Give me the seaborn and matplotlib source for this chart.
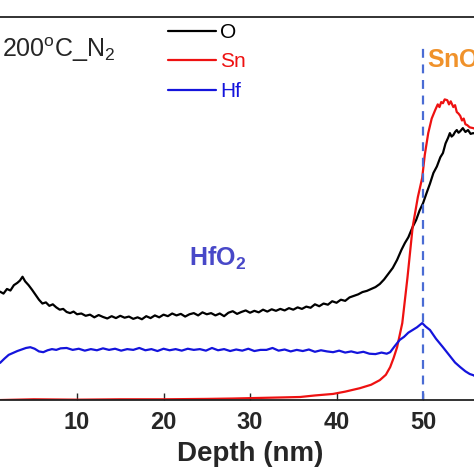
import numpy as np
import pandas as pd
import seaborn as sns
import matplotlib
matplotlib.use("Agg")
import matplotlib.pyplot as plt

# depth profile values (arbitrary intensity units)
o_depth = [1.1, 1.5, 1.9, 2.3, 2.7, 3.1, 3.4, 3.7, 4.0, 4.4, 4.8, 5.2, 5.6, 6.0, 6.4,
           6.8, 7.2, 7.6, 8.0, 8.4, 8.8, 9.2, 9.6, 10.0, 10.5, 11.0, 11.5, 12.0, 12.5,
           13.0, 13.5, 14.0, 14.5, 15.0, 15.5, 16.0, 16.5, 17.0, 17.5, 18.0, 18.5,
           19.0, 19.5, 20.0, 20.5, 21.0, 21.5, 22.0, 22.5, 23.0, 23.5, 24.0, 24.5,
           25.0, 25.5, 26.0, 26.5, 27.0, 27.5, 28.0, 28.5, 29.0, 29.5, 30.0, 30.5,
           31.0, 31.5, 32.0, 32.5, 33.0, 33.5, 34.0, 34.5, 35.0, 35.5, 36.0, 36.5,
           37.0, 37.5, 38.0, 38.5, 39.0, 39.5, 40.0, 40.5, 41.0, 41.5, 42.0, 42.5,
           43.0, 43.5, 44.0, 44.5, 45.0, 45.5, 46.0, 46.5, 47.0, 47.5, 47.9, 48.3,
           48.8, 49.2, 49.6, 50.0, 50.4, 50.8, 51.2, 51.6, 52.0, 52.3, 52.6, 52.9,
           53.1, 53.3, 53.5, 53.7, 53.9, 54.1, 54.3, 54.6, 54.9, 55.2, 55.5, 55.8, 57.0]
o_value = [0.283, 0.278, 0.290, 0.286, 0.300, 0.306, 0.312, 0.322, 0.310, 0.300, 0.288,
           0.275, 0.262, 0.252, 0.255, 0.246, 0.250, 0.242, 0.236, 0.238, 0.230, 0.227,
           0.231, 0.224, 0.226, 0.220, 0.223, 0.216, 0.222, 0.217, 0.213, 0.219, 0.214,
           0.220, 0.215, 0.218, 0.212, 0.216, 0.211, 0.219, 0.214, 0.221, 0.216, 0.223,
           0.219, 0.226, 0.221, 0.225, 0.218, 0.224, 0.227, 0.221, 0.229, 0.224, 0.227,
           0.221, 0.226, 0.219, 0.228, 0.232, 0.225, 0.230, 0.234, 0.228, 0.233, 0.229,
           0.236, 0.231, 0.237, 0.233, 0.238, 0.234, 0.240, 0.236, 0.242, 0.238, 0.244,
           0.241, 0.250, 0.245, 0.252, 0.249, 0.258, 0.254, 0.262, 0.259, 0.268, 0.272,
           0.276, 0.282, 0.285, 0.290, 0.295, 0.303, 0.315, 0.330, 0.345, 0.366, 0.392,
           0.410, 0.425, 0.452, 0.470, 0.495, 0.514, 0.540, 0.565, 0.593, 0.610, 0.634,
           0.645, 0.670, 0.685, 0.697, 0.688, 0.692, 0.700, 0.705, 0.698, 0.702, 0.710,
           0.700, 0.705, 0.695, 0.697, 0.690]

sn_depth = [1.1, 5.0, 10.0, 15.0, 20.0, 25.0, 28.0, 30.0, 32.0, 34.0, 35.8, 37.5,
            39.6, 41.0, 42.7, 44.0, 45.0, 45.7, 46.2, 46.6, 47.0, 47.6, 48.2, 48.8,
            49.4, 49.9, 50.2, 50.6, 51.0, 51.4, 51.7, 51.9, 52.1, 52.3, 52.5, 52.8,
            53.0, 53.2, 53.5, 53.7, 53.9, 54.1, 54.3, 54.5, 54.7, 54.9, 55.1, 55.4,
            55.8, 57.0]
sn_value = [0.0, 0.002, 0.001, 0.002, 0.002, 0.003, 0.004, 0.005, 0.006, 0.007, 0.008,
            0.012, 0.016, 0.022, 0.031, 0.040, 0.052, 0.066, 0.086, 0.110, 0.138, 0.201,
            0.320, 0.452, 0.530, 0.580, 0.640, 0.697, 0.735, 0.757, 0.772, 0.765, 0.778,
            0.775, 0.785, 0.783, 0.772, 0.780, 0.765, 0.770, 0.752, 0.748, 0.742, 0.730,
            0.735, 0.720, 0.718, 0.712, 0.710, 0.700]

hf_depth = [1.1, 1.6, 2.1, 2.6, 3.1, 3.6, 4.1, 4.6, 5.1, 5.6, 6.1, 6.6, 7.1, 7.6, 8.1,
            8.8, 9.5, 10.2, 10.9, 11.6, 12.3, 13.0, 13.7, 14.4, 15.1, 15.8, 16.5, 17.2,
            17.9, 18.6, 19.3, 20.0, 20.7, 21.4, 22.1, 22.8, 23.5, 24.2, 24.9, 25.6,
            26.3, 27.0, 27.7, 28.4, 29.1, 29.8, 30.5, 31.2, 31.9, 32.6, 33.3, 34.0,
            34.7, 35.4, 36.1, 36.8, 37.5, 38.2, 38.9, 39.6, 40.3, 41.0, 41.7, 42.4,
            43.1, 43.8, 44.5, 45.2, 45.8, 46.2, 46.7, 47.3, 47.8, 48.3, 48.8, 49.3,
            49.9, 50.3, 50.8, 51.5, 52.3, 53.0, 53.7, 54.3, 54.9, 55.4, 55.8, 57.0]
hf_value = [0.097, 0.108, 0.118, 0.123, 0.128, 0.132, 0.136, 0.138, 0.134, 0.127, 0.125,
            0.130, 0.133, 0.131, 0.135, 0.136, 0.131, 0.134, 0.129, 0.133, 0.130, 0.135,
            0.131, 0.134, 0.129, 0.133, 0.131, 0.136, 0.130, 0.133, 0.128, 0.134, 0.130,
            0.133, 0.129, 0.134, 0.131, 0.133, 0.129, 0.136, 0.130, 0.133, 0.128, 0.132,
            0.129, 0.134, 0.128, 0.131, 0.131, 0.136, 0.129, 0.132, 0.127, 0.131, 0.128,
            0.132, 0.126, 0.130, 0.127, 0.125, 0.129, 0.124, 0.127, 0.123, 0.126, 0.121,
            0.120, 0.124, 0.121, 0.125, 0.140, 0.157, 0.165, 0.176, 0.183, 0.190, 0.201,
            0.192, 0.183, 0.160, 0.138, 0.118, 0.098, 0.086, 0.075, 0.068, 0.065, 0.050]

elements = ["O", "Sn", "Hf"]
colors = {"O": "#000000", "Sn": "#ee1111", "Hf": "#1414dc"}
tick_values = [10, 20, 30, 40, 50]

df = pd.concat([
    pd.DataFrame({"Depth": o_depth, "Intensity": o_value, "Element": "O"}),
    pd.DataFrame({"Depth": sn_depth, "Intensity": sn_value, "Element": "Sn"}),
    pd.DataFrame({"Depth": hf_depth, "Intensity": hf_value, "Element": "Hf"}),
])

sns.set_style("ticks")
plt.rcParams["font.family"] = ["Liberation Sans", "DejaVu Sans"]
plt.rcParams["mathtext.fontset"] = "custom"
plt.rcParams["mathtext.rm"] = "Liberation Sans"
plt.rcParams["mathtext.bf"] = "Liberation Sans:bold"

fig = plt.figure(figsize=(4.74, 4.74), dpi=100)
ax = fig.add_axes([-0.020, 0.156, 1.095, 0.808])

sns.lineplot(data=df, x="Depth", y="Intensity", hue="Element", hue_order=elements,
             palette=colors, linewidth=1.6, sort=False, estimator=None, ax=ax)

ax.axvline(50, ymax=0.932, color="#4a6cd4", linestyle=(0, (4, 3)), linewidth=1.6)

ax.set_xlim(0, 60)
ax.set_ylim(0, 1)
ax.set_xticks(tick_values)
ax.set_yticks([])
ax.tick_params(axis="x", direction="in", length=5, width=1, labelsize=17, pad=8)
for lab in ax.get_xticklabels():
    lab.set_fontweight("bold")
ax.set_xlabel("Depth (nm)", fontsize=20, fontweight="bold", labelpad=5)
ax.set_ylabel("")
for s in ax.spines.values():
    s.set_linewidth(1.3)
    s.set_color("#222222")

fig.text(0.004, 1 - 57 / 474, r"200$^{\rm o}$C_N$_2$", fontsize=18,
         ha="left", va="baseline")
ax.text(26.2, 0.37, r"$\mathbf{HfO_2}$", fontsize=18, color="#4848c8",
        ha="center", va="center")
ax.text(50.4, 0.885, r"$\mathbf{SnO_2}$", fontsize=18, color="#f0922b",
        ha="left", va="center")

ax.legend(loc="upper left", bbox_to_anchor=(168 / 474, 1 - 23 / 474),
          bbox_transform=fig.transFigure, frameon=False, fontsize=15,
          handlelength=2.3, handletextpad=0.2, labelspacing=0.5,
          borderpad=0, borderaxespad=0, labelcolor="linecolor", title=None)

fig.savefig("out.png", dpi=100)
